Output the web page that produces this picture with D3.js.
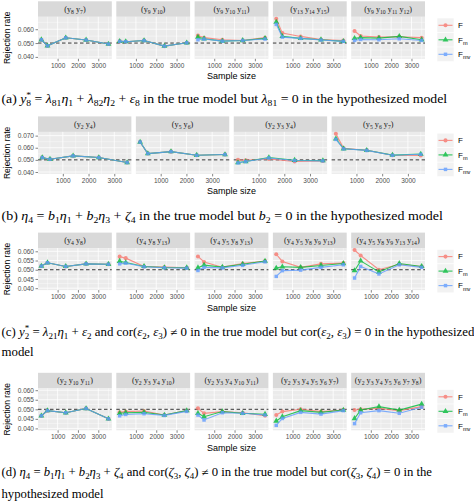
<!DOCTYPE html>
<html>
<head>
<meta charset="utf-8">
<style>
 body { margin: 0; background: #fff; }
 svg { display: block; background: #fff; }
 text { white-space: pre; }
</style>
</head>
<body>
<svg width="474" height="501"></svg>
<script src="https://d3js.org/d3.v7.min.js"></script>
<script>

// ---- data ----
var sampleSizes = [200, 500, 1400, 2400, 3500];
var xTicks = [1000, 2000, 3000];
var seriesLabels = ["F", "F_{m}", "F_{mv}"];
var seriesColors = ["#F8766D", "#00BA38", "#619CFF"];

var facetsA = ["(y_{8} y_{7})", "(y_{9} y_{10})", "(y_{9} y_{10} y_{11})", "(y_{13} y_{14} y_{15})", "(y_{9} y_{10} y_{11} y_{12})"];
var facetsB = ["(y_{2} y_{4})", "(y_{5} y_{6})", "(y_{2} y_{3} y_{4})", "(y_{5} y_{6} y_{7})"];
var facetsC = ["(y_{4} y_{8})", "(y_{4} y_{8} y_{13})", "(y_{4} y_{5} y_{8} y_{13})", "(y_{4} y_{5} y_{8} y_{9} y_{13})", "(y_{4} y_{5} y_{8} y_{9} y_{13} y_{14})"];
var facetsD = ["(y_{2} y_{10} y_{11})", "(y_{2} y_{3} y_{4} y_{10})", "(y_{2} y_{3} y_{4} y_{10} y_{11})", "(y_{2} y_{3} y_{4} y_{5} y_{6} y_{7})", "(y_{2} y_{3} y_{4} y_{5} y_{6} y_{7} y_{8})"];

var aF = [
  [0.0524, 0.0480, 0.0538, 0.0522, 0.0493],
  [0.0512, 0.0510, 0.0518, 0.0478, 0.0502],
  [0.0555, 0.0539, 0.0524, 0.0519, 0.0539],
  [0.0676, 0.0572, 0.0548, 0.0526, 0.0519],
  [0.0587, 0.0551, 0.0543, 0.0546, 0.0539]];
var aFm = [
  [0.0524, 0.0480, 0.0538, 0.0522, 0.0493],
  [0.0512, 0.0510, 0.0518, 0.0478, 0.0502],
  [0.0543, 0.0531, 0.0514, 0.0519, 0.0534],
  [0.0652, 0.0548, 0.0534, 0.0524, 0.0512],
  [0.0534, 0.0539, 0.0536, 0.0548, 0.0524]];
var aFmv = [
  [0.0524, 0.0480, 0.0538, 0.0522, 0.0493],
  [0.0512, 0.0510, 0.0518, 0.0478, 0.0502],
  [0.0524, 0.0529, 0.0514, 0.0519, 0.0529],
  [0.0635, 0.0543, 0.0534, 0.0522, 0.0512],
  [0.0519, 0.0526, 0.0524, 0.0531, 0.0519]];

var bF = [
  [0.0519, 0.0505, 0.0533, 0.0519, 0.0478],
  [0.0647, 0.0552, 0.0568, 0.0538, 0.0544],
  [0.0500, 0.0497, 0.0508, 0.0486, 0.0491],
  [0.0715, 0.0595, 0.0579, 0.0538, 0.0536]];
var bFm = [
  [0.0519, 0.0505, 0.0533, 0.0519, 0.0478],
  [0.0647, 0.0552, 0.0568, 0.0538, 0.0544],
  [0.0478, 0.0486, 0.0519, 0.0497, 0.0494],
  [0.0674, 0.0592, 0.0579, 0.0539, 0.0548]];
var bFmv = [
  [0.0519, 0.0505, 0.0533, 0.0519, 0.0478],
  [0.0647, 0.0552, 0.0568, 0.0538, 0.0544],
  [0.0475, 0.0486, 0.0516, 0.0495, 0.0492],
  [0.0669, 0.0591, 0.0578, 0.0538, 0.0546]];

var cF = [
  [0.0520, 0.0538, 0.0518, 0.0532, 0.0530],
  [0.0571, 0.0563, 0.0518, 0.0514, 0.0511],
  [0.0572, 0.0542, 0.0514, 0.0534, 0.0547],
  [0.0584, 0.0545, 0.0513, 0.0532, 0.0536],
  [0.0607, 0.0577, 0.0500, 0.0530, 0.0518]];
var cFm = [
  [0.0520, 0.0538, 0.0518, 0.0532, 0.0530],
  [0.0546, 0.0539, 0.0518, 0.0512, 0.0511],
  [0.0511, 0.0525, 0.0514, 0.0530, 0.0547],
  [0.0509, 0.0516, 0.0513, 0.0523, 0.0534],
  [0.0495, 0.0548, 0.0488, 0.0534, 0.0518]];
var cFmv = [
  [0.0520, 0.0538, 0.0518, 0.0532, 0.0530],
  [0.0532, 0.0536, 0.0516, 0.0511, 0.0509],
  [0.0496, 0.0513, 0.0510, 0.0524, 0.0543],
  [0.0464, 0.0495, 0.0498, 0.0513, 0.0527],
  [0.0455, 0.0518, 0.0477, 0.0527, 0.0513]];

var dF = [
  [0.0466, 0.0493, 0.0482, 0.0504, 0.0450],
  [0.0484, 0.0488, 0.0491, 0.0470, 0.0493],
  [0.0505, 0.0479, 0.0488, 0.0482, 0.0467],
  [0.0470, 0.0488, 0.0500, 0.0488, 0.0496],
  [0.0496, 0.0500, 0.0505, 0.0493, 0.0514]];
var dFm = [
  [0.0466, 0.0493, 0.0482, 0.0504, 0.0450],
  [0.0479, 0.0482, 0.0484, 0.0470, 0.0493],
  [0.0479, 0.0461, 0.0488, 0.0479, 0.0474],
  [0.0439, 0.0461, 0.0493, 0.0484, 0.0496],
  [0.0452, 0.0496, 0.0514, 0.0496, 0.0527]];
var dFmv = [
  [0.0466, 0.0493, 0.0482, 0.0504, 0.0450],
  [0.0466, 0.0473, 0.0477, 0.0468, 0.0489],
  [0.0470, 0.0444, 0.0482, 0.0479, 0.0470],
  [0.0416, 0.0452, 0.0484, 0.0475, 0.0493],
  [0.0425, 0.0482, 0.0493, 0.0479, 0.0511]];

var yTicksA = [0.040, 0.050, 0.060];
var yTicksB = [0.040, 0.050, 0.060, 0.070];
var yTicksC = [0.040, 0.045, 0.050, 0.055, 0.060];
var yTicksD = [0.040, 0.045, 0.050, 0.055, 0.060];
var yLimA = [0.040, 0.0676];
var yLimB = [0.040, 0.0715];
var yLimC = [0.040, 0.0607];
var yLimD = [0.040, 0.060];
var refRate = 0.05;

// captions: |..| = italic, _{..} subscript, ^{..} superscript
var capA = ["(a) |y|_{8}^{*} = |λ|_{81}|η|_{1} + |λ|_{82}|η|_{2} + |ε|_{8} in the true model but |λ|_{81} = 0 in the hypothesized model"];
var capB = ["(b) |η|_{4} = |b|_{1}|η|_{1} + |b|_{2}|η|_{3} + |ζ|_{4} in the true model but |b|_{2} = 0 in the hypothesized model"];
var capC = ["(c) |y|_{2}^{*} = |λ|_{21}|η|_{1} + |ε|_{2} and cor(|ε|_{2}, |ε|_{3}) ≠ 0 in the true model but cor(|ε|_{2}, |ε|_{3}) = 0 in the hypothesized", "model"];
var capD = ["(d) |η|_{4} = |b|_{1}|η|_{1} + |b|_{2}|η|_{3} + |ζ|_{4} and cor(|ζ|_{3}, |ζ|_{4}) ≠ 0 in the true model but cor(|ζ|_{3}, |ζ|_{4}) = 0 in the", "hypothesized model"];

// ---- layout ----
var sans = "'Liberation Sans', Arial, sans-serif";
var serif = "'Liberation Serif', 'Times New Roman', serif";
var xLeft = 38, xRight = 425, facetGap = 4.5, stripH = 15.5, plotH = 42;

var panels = [
  {top: 1.3,   facets: facetsA, data: [aF, aFm, aFmv], ticks: yTicksA, lim: yLimA, cap: capA, capY: [102.5], capW: 446},
  {top: 116.4, facets: facetsB, data: [bF, bFm, bFmv], ticks: yTicksB, lim: yLimB, cap: capB, capY: [219.5], capW: 442},
  {top: 232.6, facets: facetsC, data: [cF, cFm, cFmv], ticks: yTicksC, lim: yLimC, cap: capC, capY: [336, 356], capW: 474},
  {top: 372.8, facets: facetsD, data: [dF, dFm, dFmv], ticks: yTicksD, lim: yLimD, cap: capD, capY: [475.5, 498], capW: 431}
];

var svg = d3.select("svg");
var shapes = [d3.symbolCircle, d3.symbolTriangle, d3.symbolSquare];
var shapeSize = [13, 15, 12];

// tiny markup -> tspans
function rich(sel, markup, size) {
  var parts = [], i = 0, it = false, buf = "";
  function push(t, mode) { if (t) parts.push({t: t, it: it, mode: mode}); }
  while (i < markup.length) {
    var c = markup[i];
    if (c === "|") { push(buf, 0); buf = ""; it = !it; i++; }
    else if ((c === "_" || c === "^") && markup[i + 1] === "{") {
      push(buf, 0); buf = "";
      var j = markup.indexOf("}", i);
      parts.push({t: markup.slice(i + 2, j), it: false, mode: c === "_" ? 1 : 2});
      i = j + 1;
    } else { buf += c; i++; }
  }
  push(buf, 0);
  var shift = 0, prev = null, prevMode = 0;
  parts.forEach(function(p) {
    var target = p.mode === 1 ? size * 0.28 : p.mode === 2 ? -size * 0.42 : 0;
    var ts = sel.append("tspan")
      .attr("dy", target - shift)
      .attr("font-size", p.mode ? size * 0.7 : size)
      .attr("font-style", p.it ? "italic" : "normal")
      .text(p.t);
    if (p.mode === 2 && prevMode === 1 && prev) {
      ts.attr("dx", -prev.node().getComputedTextLength());
    }
    shift = target; prev = ts; prevMode = p.mode;
  });
}

var xr = d3.extent(sampleSizes), xpad = (xr[1] - xr[0]) * 0.05;

panels.forEach(function(p) {
  var n = p.facets.length;
  var fw = (xRight - xLeft - facetGap * (n - 1)) / n;
  var plotTop = p.top + stripH, plotBot = plotTop + plotH;
  var ypad = (p.lim[1] - p.lim[0]) * 0.05;
  var y = d3.scaleLinear().domain([p.lim[0] - ypad, p.lim[1] + ypad]).range([plotBot, plotTop]);
  var yd = y.domain();
  var step = p.ticks[1] - p.ticks[0];
  var yMinor = [];
  p.ticks.concat([p.ticks[0] - step, p.ticks[p.ticks.length - 1] + step]).forEach(function(t) {
    var m = t + step / 2;
    if (m > yd[0] && m < yd[1] && yMinor.indexOf(m) < 0) yMinor.push(m);
  });
  var xMinor = [500, 1500, 2500, 3500];
  var g = svg.append("g");

  p.facets.forEach(function(lab, k) {
    var x0 = xLeft + k * (fw + facetGap);
    var x = d3.scaleLinear().domain([xr[0] - xpad, xr[1] + xpad]).range([x0, x0 + fw]);

    g.append("rect").attr("x", x0).attr("y", p.top).attr("width", fw).attr("height", stripH).attr("fill", "#D9D9D9");
    var st = g.append("text").attr("x", x0 + fw / 2).attr("y", p.top + stripH / 2 + 2.6)
      .attr("text-anchor", "middle").attr("font-family", serif).attr("fill", "#1A1A1A");
    rich(st, lab, 8.2);

    g.append("rect").attr("x", x0).attr("y", plotTop).attr("width", fw).attr("height", plotH).attr("fill", "#EBEBEB");

    g.selectAll(null).data(yMinor).enter().append("line")
      .attr("x1", x0).attr("x2", x0 + fw).attr("y1", y).attr("y2", y)
      .attr("stroke", "#fff").attr("stroke-width", 0.4);
    g.selectAll(null).data(xMinor).enter().append("line")
      .attr("x1", x).attr("x2", x).attr("y1", plotTop).attr("y2", plotBot)
      .attr("stroke", "#fff").attr("stroke-width", 0.4);
    g.selectAll(null).data(p.ticks).enter().append("line")
      .attr("x1", x0).attr("x2", x0 + fw).attr("y1", y).attr("y2", y)
      .attr("stroke", "#fff").attr("stroke-width", 0.8);
    g.selectAll(null).data(xTicks).enter().append("line")
      .attr("x1", x).attr("x2", x).attr("y1", plotTop).attr("y2", plotBot)
      .attr("stroke", "#fff").attr("stroke-width", 0.8);

    var ax = g.append("g").attr("transform", "translate(0," + plotBot + ")")
      .call(d3.axisBottom(x).tickValues(xTicks).tickSize(2.5).tickPadding(1.6).tickFormat(d3.format("d")));
    ax.attr("font-size", 6.5).attr("font-family", sans);
    ax.select(".domain").remove();
    ax.selectAll("line").attr("stroke", "#333").attr("stroke-width", 0.6);
    ax.selectAll("text").attr("fill", "#4D4D4D");

    g.append("line").attr("x1", x0).attr("x2", x0 + fw).attr("y1", y(refRate)).attr("y2", y(refRate))
      .attr("stroke", "#000").attr("stroke-width", 0.8).attr("stroke-dasharray", "3.5,2.5");

    p.data.forEach(function(series, si) {
      var vals = series[k];
      var pts = sampleSizes.map(function(s, i) { return [s, vals[i]]; });
      var sg = g.append("g").attr("opacity", 0.8);
      sg.append("path").datum(pts)
        .attr("d", d3.line().x(function(d) { return x(d[0]); }).y(function(d) { return y(d[1]); }))
        .attr("fill", "none").attr("stroke", seriesColors[si]).attr("stroke-width", 1.1);
      sg.selectAll(null).data(pts).enter().append("path")
        .attr("transform", function(d) { return "translate(" + x(d[0]) + "," + y(d[1]) + ")"; })
        .attr("d", d3.symbol().type(shapes[si]).size(shapeSize[si]))
        .attr("fill", seriesColors[si]);
    });
  });

  var ay = g.append("g").attr("transform", "translate(" + xLeft + ",0)")
    .call(d3.axisLeft(y).tickValues(p.ticks).tickSize(2.5).tickPadding(1.5).tickFormat(d3.format(".3f")));
  ay.attr("font-size", 6.5).attr("font-family", sans);
  ay.select(".domain").remove();
  ay.selectAll("line").attr("stroke", "#333").attr("stroke-width", 0.6);
  ay.selectAll("text").attr("fill", "#4D4D4D");

  var midY = (plotTop + plotBot) / 2;
  g.append("text").attr("transform", "translate(7.5," + midY + ") rotate(-90)")
    .attr("text-anchor", "middle").attr("dy", "0.35em")
    .attr("font-family", sans).attr("font-size", 8.5).attr("fill", "#000").text("Rejection rate");
  g.append("text").attr("x", (xLeft + xRight) / 2).attr("y", plotBot + 20.5)
    .attr("text-anchor", "middle").attr("font-family", sans).attr("font-size", 9).attr("fill", "#000").text("Sample size");

  // legend
  var lg = g.append("g");
  seriesLabels.forEach(function(lab, si) {
    var cy = midY + 2 + (si - 1) * 14.5;
    lg.append("rect").attr("x", 437).attr("y", cy - 7.25).attr("width", 17).attr("height", 14.5)
      .attr("fill", "#F2F2F2").attr("stroke", "#fff").attr("stroke-width", 0.6);
    var kg = lg.append("g").attr("opacity", 0.8);
    kg.append("line").attr("x1", 438.5).attr("x2", 452.5).attr("y1", cy).attr("y2", cy)
      .attr("stroke", seriesColors[si]).attr("stroke-width", 1.1);
    kg.append("path").attr("transform", "translate(445.5," + cy + ")")
      .attr("d", d3.symbol().type(shapes[si]).size(shapeSize[si])).attr("fill", seriesColors[si]);
    var lt = lg.append("text").attr("x", 458).attr("y", cy + 2.8)
      .attr("font-family", sans).attr("fill", "#000");
    rich(lt, lab, 8);
  });

  // caption
  var sx = 1;
  p.cap.forEach(function(line, li) {
    var t = svg.append("text").attr("font-family", serif).attr("fill", "#000");
    rich(t, line, 11.5);
    var w = t.node().getBBox().width;
    if (li === 0) sx = p.capW / w;
    t.attr("transform", "translate(1.5," + p.capY[li] + ") scale(" + sx + ",1)");
  });
});
</script>
</body>
</html>
